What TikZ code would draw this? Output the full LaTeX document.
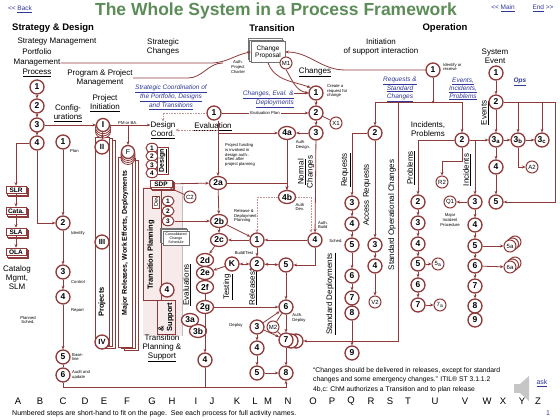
\documentclass[tikz,border=0pt]{standalone}
\usepackage{fontspec}
\setmainfont{Liberation Sans}
\usetikzlibrary{arrows.meta,shapes.geometric,shadows}

\definecolor{maroon}{HTML}{8E3A3A}
\definecolor{titlegreen}{HTML}{5C8C58}
\definecolor{linkblue}{HTML}{30389A}
\definecolor{panelpink}{HTML}{F6EAEA}

\tikzset{
  num/.style={circle, draw=maroon, line width=1.3pt, fill=white, inner sep=0pt,
    minimum size=14pt, font=\bfseries\fontsize{8.5}{8.5}\selectfont},
  wnum/.style={num, ellipse, minimum width=17pt, minimum height=13pt},
  smallnum/.style={num, minimum size=12pt, line width=1pt, font=\fontsize{6}{6}\selectfont},
  oval/.style={ellipse, draw=maroon, line width=1pt, fill=white, inner sep=0pt,
    minimum width=12pt, minimum height=9.5pt, font=\bfseries\fontsize{6.5}{6.5}\selectfont},
  note/.style={font=\fontsize{4.2}{4.8}\selectfont, align=left, inner sep=0pt},
  lab/.style={font=\fontsize{8}{9}\selectfont, align=center, inner sep=0pt},
  vlab/.style={lab, rotate=90},
  sechead/.style={font=\bfseries\fontsize{9.5}{10}\selectfont, inner sep=0pt},
  weblink/.style={font=\itshape\fontsize{6.5}{7.8}\selectfont, text=linkblue, align=center, inner sep=0pt},
  flow/.style={draw=maroon, line width=0.8pt, -{Stealth[length=3.5pt,width=3pt]}},
  twoway/.style={flow, {Stealth[length=3.5pt,width=3pt]}-{Stealth[length=3.5pt,width=3pt]}},
  wire/.style={draw=maroon, line width=0.8pt},
  faint/.style={draw=maroon!55, line width=0.6pt, densely dotted, -{Stealth[length=3pt,width=3pt]}},
  cube/.style={draw=maroon, line width=1pt, fill=white, inner sep=1.5pt, minimum width=20pt,
    font=\bfseries\fontsize{6.5}{7}\selectfont,
    double copy shadow={shadow xshift=1.3pt, shadow yshift=-1.3pt, draw=maroon, fill=white}},
  pages/.style={draw=black!55, fill=white, inner sep=1.5pt, align=center,
    double copy shadow={shadow xshift=-1.5pt, shadow yshift=1.5pt, draw=black!55, fill=white}},
  slab/.style={draw=maroon, line width=0.8pt, fill=white},
}

\begin{document}
\begin{tikzpicture}[x=1pt, y=-1pt]
\useasboundingbox (0,0) rectangle (560,420);
\fill[white] (0,0) rectangle (560,420);

% header
\node[text=linkblue, font=\fontsize{6.5}{7}\selectfont] (back) at (20,9) {<\kern0pt< \underline{Back}};
\node[text=titlegreen, font=\bfseries\fontsize{17.5}{18}\selectfont] (title) at (276,11) {The Whole System in a Process Framework};
\node[text=linkblue, font=\fontsize{6.5}{7}\selectfont] (main) at (503,8) {<\kern0pt< \underline{Main}};
\node[text=linkblue, font=\fontsize{6.5}{7}\selectfont] (fwd) at (543,8) {\underline{End} >\kern0pt>};
\node[sechead, anchor=west] (hsd) at (12,28) {Strategy \& Design};
\node[sechead] (htr) at (272,28) {Transition};
\node[sechead] (hop) at (445,28) {Operation};

% panels and columns
\fill[panelpink] (143,186) rectangle (182,336);
\draw[black!25] (182,186) -- (182,336);
\draw[maroon, line width=1pt] (143,188) rectangle (161,300);
\draw[maroon, line width=0.8pt] (157,300) rectangle (175,334);
\foreach \d in {6,3,0}
  \draw[slab] ({95+\d},{137+\d/2}) rectangle ({109+\d},{345+\d/2});
\foreach \d in {6,3,0}
  \draw[slab] ({118+\d},{157+\d/2}) rectangle ({132+\d},{347+\d/2});

% labels
\node[lab] (strm) at (57,42) {Strategy Management};
\node[lab] (stc) at (163,47) {Strategic\\Changes};
\node[lab, font=\fontsize{8}{10}\selectfont] (pmp) at (37,63) {Portfolio\\Management\\\underline{Process}};
\node[lab] (ppm) at (100,78) {Program \& Project\\Management};
\node[lab] (cfg) at (68,113) {Config-\\\underline{urations}};
\node[lab] (pin) at (105,103) {Project\\\underline{Initiation}};
\node[lab] (dc) at (163,130) {Design\\\underline{Coord.}};
\node[weblink] (scd) at (171,97) {\underline{Strategic Coordination of}\\\underline{the Portfolio, Designs}\\\underline{and Transitions}};
\node[weblink, align=right, anchor=east] (ced) at (294,99) {\underline{Changes, Eval. \&}\\\underline{Deployments}};
\node[lab] (chg) at (315,72) {\underline{Changes}};
\node[lab] (evl) at (213,127) {\underline{Evaluation}};
\node[lab] (isi) at (381,47) {Initiation\\of support interaction};
\node[lab] (sev) at (495,56) {System\\Event};
\node[weblink] (rsc) at (400,89) {\underline{Requests \&}\\\underline{Standard}\\\underline{Changes}};
\node[weblink] (eip) at (463,89) {\underline{Events,}\\\underline{Incidents,}\\\underline{Problems}};
\node[weblink, font=\bfseries\itshape\fontsize{6.5}{7}\selectfont] (ops) at (520,82) {\underline{Ops}};
\node[lab] (incp) at (428,129) {Incidents,\\Problems};
\node[lab] (cat) at (17,278) {Catalog\\Mgmt,\\SLM};
\node[lab] (tps) at (162,348) {Transition\\Planning \&\\\underline{Support}};

% vertical labels
\node[vlab] (nch) at (306,172) {\underline{Normal}\\Changes};
\node[vlab] (req) at (346,170) {\underline{Requests}};
\node[vlab] (acr) at (367,195) {Access Requests};
\node[vlab] (soc) at (392,215) {Standard Operational Changes};
\node[vlab] (sdep) at (331,294) {\underline{Standard Deployments}};
\node[vlab] (evts) at (485,113) {\underline{Events}};
\node[vlab] (prb) at (411,168) {\underline{Problems}};
\node[vlab] (incs) at (467,170) {\underline{Incidents}};
\node[vlab] (tst) at (228,287) {\underline{Testing}};
\node[vlab] (rel) at (253,287) {\underline{Releases*}};
\node[vlab] (evs) at (187,285) {\underline{Evaluations}};
\node[vlab, font=\bfseries\fontsize{7.5}{8}\selectfont] (prj) at (102,302) {Projects};
\node[vlab, font=\bfseries\fontsize{7}{8}\selectfont] (mrw) at (125,243) {Major Releases, Work Efforts, Deployments};
\node[vlab, font=\bfseries\fontsize{7.5}{8}\selectfont] (tpl) at (151,255) {Transition Planning};
\node[vlab, align=left, font=\bfseries\fontsize{7.5}{8.5}\selectfont] (sup) at (166,317) {\&\\Support};

% small notes
\node[note, align=center] (apc) at (238,67) {Auth.\\Project\\Charter};
\node[note, anchor=west] (crc) at (327,91) {Create a\\request for\\change};
\node[note, anchor=west] (iorr) at (443,67) {Identify or\\receive};
\node[note, anchor=west] (pmba) at (118,123) {PM or BA.};
\node[note, anchor=west] (pfund) at (225,155) {Project funding\\is involved in\\design auth..\\often after\\project planning};
\node[note] (adsg) at (303,145) {Auth\\Design.};
\node[note] (adev) at (300,207) {Auth\\Dev.};
\node[note] (abld) at (323,225) {Auth.\\Build};
\node[note] (sched) at (336,241) {Sched.};
\node[note, anchor=west] (rdp) at (234,216) {Release \&\\Deployment\\Planning};
\node[note] (bt) at (244,253) {Build/Test};
\node[note] (dpl) at (236,325) {Deploy};
\node[note] (adpl) at (299,318) {Auth.\\Deploy};
\node[note, align=center] (mip) at (450,220) {Major\\Incident\\Procedure};
\node[note, anchor=west] (plan) at (70,151) {Plan};
\node[note, anchor=west] (idf) at (71,233) {Identify};
\node[note, anchor=west] (ctl) at (71,282) {Control};
\node[note, anchor=west] (rpt) at (71,310) {Report};
\node[note, anchor=west] (bsl) at (72,357) {Base-\\line};
\node[note, anchor=west] (aud) at (72,375) {Audit and\\update};
\node[note, align=center] (psch) at (28,320) {Planned\\Sched.};

% strategy and configurations
\node[num] (s1) at (37,87) {1};
\node[num] (s2) at (37,106) {2};
\node[num] (s3) at (37,125) {3};
\node[num] (s4) at (37,143) {4};
\node[num] (g1) at (63,142) {1};
\node[num] (g2) at (63,223) {2};
\node[num] (g3) at (63,272) {3};
\node[num] (g4) at (63,297) {4};
\node[num] (g5) at (63,357) {5};
\node[num] (g6) at (63,375) {6};
\node[cube] (slr) at (16,190) {SLR};
\node[cube] (cata) at (16,211) {Cata.};
\node[cube] (sla) at (16,232) {SLA};
\node[cube] (ola) at (16,252) {OLA};

% projects
\foreach \k in {3,2,1}
  \draw[maroon, line width=0.8pt, fill=white] (103,{125+2.2*\k}) ellipse (7.5 and 6.5);
\node[num, minimum size=13pt] (pi) at (103,125) {I};
\node[num, font=\bfseries\fontsize{7.5}{7.5}\selectfont] (pii) at (102,147) {II};
\node[num, font=\bfseries\fontsize{7.5}{7.5}\selectfont] (piii) at (102,242) {III};
\node[num, font=\bfseries\fontsize{7.5}{7.5}\selectfont] (piv) at (102,342) {IV};
\foreach \k in {3,2,1}
  \draw[maroon, line width=0.8pt, fill=white] (128,{152+2*\k}) ellipse (7 and 6.5);
\node[num, minimum size=13pt, font=\fontsize{7}{7}\selectfont] (pf) at (128,152) {F};

% design and transition planning
\node[oval] (ds1) at (152,148) {1};
\node[oval] (ds2) at (152,156) {2};
\node[oval] (ds3) at (152,165) {3};
\node[oval] (ds4) at (152,173) {4};
\node[draw=maroon, line width=0.8pt, fill=white, rotate=90, inner sep=1.5pt,
  font=\bfseries\fontsize{7}{7}\selectfont] (dsg) at (163,161) {\underline{Design}};
\node[cube, minimum width=22pt] (sdp) at (161,184) {SDP};
\node[smallnum] (cc2) at (190,197) {C2};
\node[draw=maroon, line width=0.8pt, fill=white, rotate=90, inner sep=1.2pt,
  font=\fontsize{5.5}{6}\selectfont] (dev) at (156,202) {Dev};
\node[oval] (dv1) at (168,201) {1};
\node[oval] (dv2) at (168,211) {2};
\node[oval] (dv3) at (168,221) {3};
\node[pages, font=\fontsize{3.6}{4}\selectfont, minimum width=26pt, minimum height=13pt] (ccs) at (176,238) {Consolidated\\Change\\Schedule};
\node[num] (sp4) at (167,290) {4};

% transition
\node[pages, font=\fontsize{6.5}{7}\selectfont, minimum width=34pt, minimum height=21pt] (cp) at (268,52) {Change\\Proposal};
\node[smallnum] (m1) at (286,63) {M1};
\node[num] (c1) at (316,93) {1};
\node[num] (c2) at (316,113) {2};
\node[smallnum] (x1) at (336,123) {X1};
\node[num] (c3) at (316,133) {3};
\node[wnum] (c4a) at (287,133) {4a};
\node[wnum] (c4b) at (287,197) {4b};
\node[num] (c4) at (315,240) {4};
\node[num] (v1) at (214,113) {1};
\node[wnum] (e2a) at (218,183) {2a};
\node[wnum] (e2b) at (219,221) {2b};
\node[wnum] (e2c) at (219,240) {2c};
\node[wnum] (e2d) at (205,260) {2d};
\node[wnum] (e2e) at (205,273) {2e};
\node[wnum] (e2f) at (205,287) {2f};
\node[wnum] (e2g) at (205,307) {2g};
\node[wnum] (e3a) at (190,320) {3a};
\node[wnum] (e3b) at (198,331) {3b};
\node[num] (e4) at (205,360) {4};
\node[num] (r1) at (257,240) {1};
\node[num] (rk) at (232,264) {K};
\node[num] (r2) at (257,264) {2};
\node[num] (r5) at (286,265) {5};
\node[num] (dp6) at (286,307) {6};
\node[num] (dp7c) at (296,341) {};
\node[num] (dp7b) at (291,341) {};
\node[num] (dp7) at (286,340) {7};
\node[num] (dp3) at (257,327) {3};
\node[smallnum] (dpm2) at (273,327) {M2};
\node[num] (dp4) at (257,348) {4};
\node[num] (dp5) at (257,373) {5};
\node[num] (dp8) at (286,373) {8};

% operation
\node[num] (o1) at (433,70) {1};
\node[num] (rq2) at (375,133) {2};
\node[num] (rq3) at (352,203) {3};
\node[num] (rq4) at (352,224) {4};
\node[num] (rq5) at (352,245) {5};
\node[num] (rq6) at (352,276) {6};
\node[num] (rq7) at (352,298) {7};
\node[num] (rq8) at (352,313) {8};
\node[num] (rq9) at (352,353) {9};
\node[num] (ar3) at (375,245) {3};
\node[num] (ar4) at (375,266) {4};
\node[smallnum] (av2) at (375,302) {V2};
\node[num] (i2) at (462,140) {2};
\node[smallnum] (nr2) at (442,182) {R2};
\node[num] (i3) at (475,202) {3};
\node[smallnum] (mq1) at (450,202) {Q1};
\node[num] (i4) at (475,225) {4};
\node[num] (i5) at (475,246) {5};
\node[num] (i6) at (475,266) {6};
\node[num] (i7) at (475,286) {7};
\node[num] (i8) at (475,306) {8};
\node[num] (i9) at (475,320) {9};
\foreach \k in {2,1}
  \draw[maroon, line width=1pt, fill=white] ({510+2.5*\k},{246-2*\k}) circle (6);
\node[smallnum] (i5a) at (510,246) {5a};
\foreach \k in {2,1}
  \draw[maroon, line width=1pt, fill=white] ({510+2.5*\k},{267-2*\k}) circle (6);
\node[smallnum] (i6a) at (510,267) {6a};
\node[num] (p2) at (418,202) {2};
\node[num] (p3) at (418,223) {3};
\node[num] (p4) at (418,244) {4};
\node[num] (p5) at (418,264) {5};
\node[smallnum] (p5a) at (438,264) {5\textsubscript{a}};
\node[num] (p6) at (418,285) {6};
\node[num] (p7) at (418,305) {7};
\node[smallnum] (p7a) at (440,305) {7\textsubscript{a}};
\node[num] (y1) at (496,73) {1};
\node[num] (y2) at (496,102) {2};
\node[num] (y3a) at (496,140) {3\textsubscript{a}};
\node[num] (y3b) at (518,140) {3\textsubscript{b}};
\node[num] (y3c) at (542,140) {3\textsubscript{c}};
\node[num] (y4) at (496,167) {4};
\node[smallnum] (ya2) at (532,167) {A2};
\node[num] (y5) at (496,202) {5};

% free ends
\coordinate (jl) at (375,102);
\coordinate (jr) at (462,102);
\coordinate (sotop) at (398,102);
\coordinate (sobot) at (398,341);
\coordinate (evr) at (555,102);
\coordinate (bl) at (63,387);
\coordinate (br) at (286,387);

% connectors: strategy side
\foreach \a/\b in {s1/s2,s2/s3,s3/s4,slr/cata,cata/sla,sla/ola,g1/g2,g2/g3,g3/g4,g4/g5}
  \draw[flow] (\a) -- (\b);
\draw[wire] (g5) -- (g6);
\draw[flow] (s4.west) -| (slr.north);
\draw[flow] (s4) |- (g2);
\draw[flow] (s3) -- (pi);
\draw[flow] (pi) -- (pii);
\draw[flow] (pi.east) -| (pf);
\draw[flow] (pi.east) -- (pi.east -| dc.west);
\draw[flow] (g6) -- (bl) -- (br) -- (dp8);
\draw[wire] (e4) -- (e4 |- bl);

% connectors: top
\draw[flow] (pmp.east) -- ++(150,0) to[out=0,in=190] (cp.west);
\draw[wire] (ppm.east) -- ++(55,0) to[out=0,in=180] ++(35,-15);
\draw[flow] (o1.west) -- ++(-80,0) to[out=180,in=0] (cp.east);
\draw[flow] (cp.south) to[out=-70,in=160] (c1.north west);
\draw[flow] (m1.south) to[out=-60,in=170] (c1.west);
\draw[flow] (ced.east |- c1) -- (c1);
\draw[flow] (c1) -- (c2);
\draw[flow] (c2) -- (c3);
\draw[wire] (c2) -- (x1);
\draw[flow] (c3) -- (c4a);
\draw[flow] (c4a) -- (c4b);
\draw[flow] (c3) -- (c4);
\draw[flow] (v1) -- node[note, fill=white, inner xsep=1.5pt, inner ysep=0.5pt] (evp) {Evaluation Plan} (c2);
\draw[flow] (e2a |- v1.south) -- (e2a);
\draw[flow] (e2a |- c4a) -- (c4a);
\draw[faint] (v1) -| (dc.north);
\draw[faint] (e2a |- dc) -- (dc.east);

% connectors: design, planning, evaluation
\draw[flow] (sdp) -- (e2a);
\draw[wire] (sdp) -- (cc2);
\draw[flow] (dv3) -- (e2b);
\draw[flow] (e2a) -- (e2b);
\draw[flow] (e2b) -- (e2c);
\draw[flow] (e2a) -| (c4b);
\draw[faint] (c4b) -| (r1);
\draw[faint] (c4b.east) -| ([xshift=-4pt]c4.north);
\draw[flow] (e2b) -- (r1);
\draw[flow] (r1) -- (e2c);
\draw[flow] (c4) -- (r1);
\draw[flow] (c4) |- (r5);
\draw[flow] (e2c) -- (e2d);
\draw[wire] (e2f) -- (e2g);
\draw[flow] (rk) -- (e2e);
\draw[flow] (r1) -- (r2);
\draw[twoway] (rk) -- (r2);
\draw[twoway] (r2) -- (r5);
\draw[flow] (r5) -- (dp6);
\draw[flow] (e2g) -- (dp6);
\draw[flow] (e2g) -- (e4);

% connectors: deployment
\draw[flow] (dp3) -- (dp6);
\draw[flow] (dp3) -- (dp7);
\draw[wire] (dpm2) -- (dp6);
\draw[wire] (dpm2) -- (dp7);
\draw[flow] (dp6) -- (dp7);
\draw[flow] (dp3) -- (dp4);
\draw[flow] (dp4) -- (dp5);
\draw[flow] (dp5) -- (dp8);
\draw[flow] (dp7) -- (dp8);
\draw[flow] (sotop) -- (sobot) -- (dp7c);

% connectors: operation
\draw[wire] (jl) -- (jr);
\draw[wire] (o1) -- (o1 |- jl);
\fill[maroon] (o1 |- jl) circle (1.4);
\draw[flow] (jl) -- (rq2);
\draw[flow] (jr) -- (i2);
\draw[flow] (rq2) -| (rq3);
\draw[flow] (rq2) -- (ar3);
\foreach \a/\b in {rq3/rq4,rq4/rq5,rq5/rq6,rq6/rq7,rq8/rq9,ar3/ar4,ar4/av2}
  \draw[flow] (\a) -- (\b);
\draw[wire] (rq7) -- (rq8);
\draw[flow] (i2) -- (y3a);
\draw[flow] (i2) -| (p2);
\draw[flow] (i3 |- i2) -- (i3);
\draw[flow] (i2.south) -- ++(0,14) -| (nr2);
\draw[flow] (i3) -- (mq1);
\foreach \a/\b in {i3/i4,i4/i5,i5/i6,i6/i7,i7/i8,i5/i5a,i6/i6a,p2/p3,p3/p4,p4/p5,p5/p6,p6/p7,p5/p5a,p7/p7a}
  \draw[flow] (\a) -- (\b);
\draw[flow] (y1) -- (y2);
\draw[flow] (y2) -- (y3a);
\draw[flow] (y2) -- (evr) |- (y5);
\draw[flow] (y3b |- y2) -- (y3b);
\draw[flow] (y3c |- y2) -- (y3c);
\draw[flow] (y3a) -- (y3b);
\draw[flow] (y3b) -- (y3c);
\draw[flow] (y3a) -- (y4);
\draw[flow] (y4) -- (y5);
\draw[flow] (y3b) |- (ya2);

% footer
\node[anchor=west, align=left, font=\fontsize{6.8}{9.5}\selectfont, inner sep=0pt] (quote) at (313,380)
  {``Changes should be delivered in releases, except for standard\\
   changes and some emergency changes.'' ITIL\textregistered{} ST 3.1.1.2\\
   4b,c: ChM authorizes a Transition and to plan release};
\foreach \c/\x in {A/18,B/40,C/63,D/85,E/104,F/127,G/152,H/172,I/196,J/212,K/237,L/255,M/268,N/288,O/313,P/332,Q/351,R/371,S/390,T/408,U/435,V/465,W/487,X/503,Y/522,Z/538}
  \node[font=\fontsize{9.5}{10}\selectfont, inner sep=0pt] (col\c) at (\x,401) {\c};
\node[anchor=west, font=\fontsize{7}{8}\selectfont, inner sep=0pt] (foot) at (12,414)
  {Numbered steps are short-hand to fit on the page.\ \ See each process for full activity names.};
\fill[gray!45] (514,384) rectangle (520,393);
\fill[gray!45] (520,384) -- (529,376) -- (529,401) -- (520,393) -- cycle;
\node[text=linkblue, font=\fontsize{7}{8}\selectfont, inner sep=0pt] (ask) at (542,383) {\underline{ask}};
\node[text=linkblue, font=\fontsize{7}{8}\selectfont, inner sep=0pt] (pgno) at (548,413) {1};
\end{tikzpicture}
\end{document}
